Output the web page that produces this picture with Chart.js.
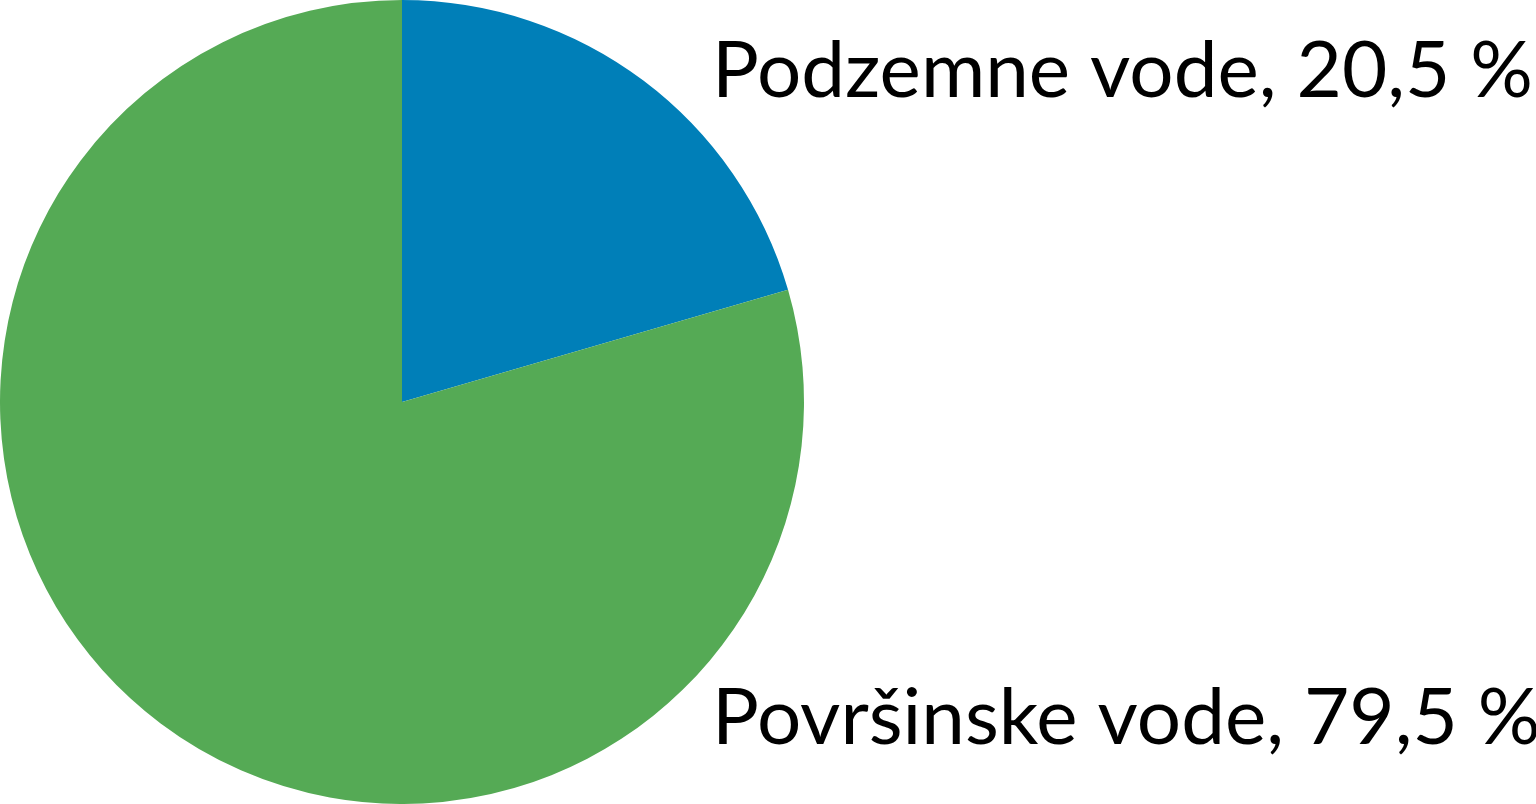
<!DOCTYPE html>
<html>
<head>
<meta charset="utf-8">
<script src="https://cdn.jsdelivr.net/npm/chart.js@4"></script>
<style>
  html, body { margin: 0; padding: 0; background: #fff; overflow: hidden; }
  #wrap { width: 1536px; height: 804px; }
</style>
</head>
<body>
<div id="wrap"><canvas id="pieCanvas"></canvas></div>
<script>
const labels = ["Podzemne vode", "Površinske vode"];
const shares = [20.5, 79.5];
const colors = ["#007FB8", "#55AA55"];

// labels on the right, written in after the pie is drawn
const sideLabels = {
    id: 'sideLabels',
    afterDraw(chart) {
        const ctx = chart.ctx;
        const x = 712;
        const baselines = [97, 744];
        const targetWidth = 821;
        ctx.save();
        ctx.fillStyle = '#000';
        ctx.textBaseline = 'alphabetic';
        const first = labels[0] + ', ' + shares[0].toFixed(1).replace('.', ',') + ' %';
        ctx.font = '400 72px Lato';
        const size = 72 * targetWidth / ctx.measureText(first).width;
        ctx.font = '400 ' + size.toFixed(1) + 'px Lato';
        for (let i = 0; i < labels.length; i++) {
            const txt = labels[i] + ', ' + shares[i].toFixed(1).replace('.', ',') + ' %';
            ctx.fillText(txt, x, baselines[i]);
        }
        ctx.restore();
    }
};

new Chart(document.getElementById('pieCanvas'), {
    type: 'pie',
    data: {
        labels: labels,
        datasets: [{
            data: shares,
            backgroundColor: colors,
            borderWidth: 0
        }]
    },
    options: {
        responsive: true,
        maintainAspectRatio: false,
        animation: false,
        layout: { padding: { left: 0, top: 0, bottom: 0, right: 732 } },
        plugins: {
            legend: { display: false },
            tooltip: { enabled: false }
        }
    },
    plugins: [sideLabels]
});
</script>
</body>
</html>
